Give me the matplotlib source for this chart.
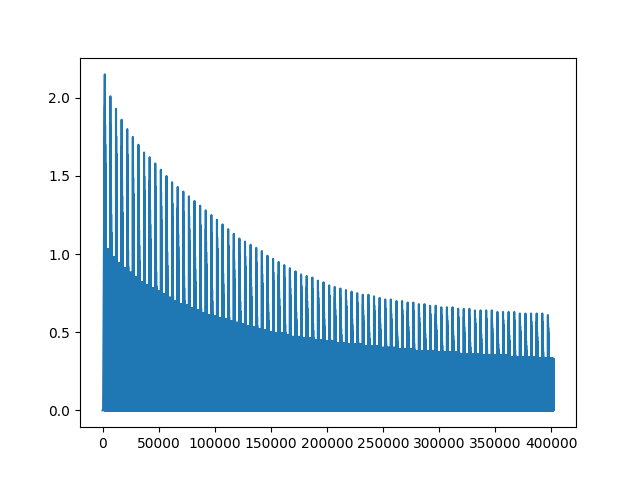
import matplotlib
matplotlib.use("Agg")
import matplotlib.pyplot as plt
import numpy as np

cycle_len = 5000
first_peak_step = 2000
peak_values = [2.15,2.01,1.93,1.86,1.80,1.75,1.70,1.65,1.62,1.58,
               1.54,1.50,1.46,1.43,1.40,1.37,1.34,1.31,1.28,1.25,
               1.22,1.19,1.16,1.13,1.10,1.08,1.06,1.04,1.02,0.99,
               0.97,0.95,0.93,0.91,0.89,0.87,0.86,0.85,0.83,0.82,
               0.80,0.79,0.78,0.77,0.76,0.75,0.74,0.74,0.73,0.72,
               0.71,0.71,0.70,0.70,0.69,0.69,0.68,0.68,0.67,0.67,
               0.66,0.66,0.66,0.65,0.65,0.65,0.64,0.64,0.64,0.64,
               0.63,0.63,0.63,0.63,0.62,0.62,0.62,0.62,0.62,0.61]
band_values = [1.03,0.98,0.94,0.91,0.88,0.85,0.82,0.80,0.78,0.76,
               0.74,0.72,0.70,0.68,0.67,0.65,0.64,0.62,0.61,0.60,
               0.59,0.58,0.57,0.56,0.55,0.54,0.53,0.52,0.51,0.50,
               0.49,0.49,0.48,0.47,0.47,0.46,0.46,0.45,0.45,0.44,
               0.44,0.43,0.43,0.42,0.42,0.42,0.41,0.41,0.41,0.40,
               0.40,0.40,0.39,0.39,0.39,0.38,0.38,0.38,0.38,0.37,
               0.37,0.37,0.37,0.36,0.36,0.36,0.36,0.35,0.35,0.35,
               0.35,0.35,0.34,0.34,0.34,0.34,0.34,0.33,0.33,0.33]
last_step = 400500
last_value = 0.33

xs = [0, first_peak_step - 1500]
ys = [0.0, 0.0]
for k, (p, b) in enumerate(zip(peak_values, band_values)):
    start = first_peak_step + k * cycle_len
    xs += [start, start + 30]
    ys += [p, 0.0]
    steps = list(range(start + 60, start + cycle_len - 30, 50))
    for j, s in enumerate(steps):
        if j % 2 == 0:
            t = (s - start) / 900.0
            top = p - (p - b) * min(t, 1.0) if t < 1 else b
        else:
            top = 0.0
        xs.append(s)
        ys.append(top)
xs.append(last_step)
ys.append(last_value)

fig, ax = plt.subplots(figsize=(6.4, 4.8), dpi=100)
ax.plot(xs, ys, color="#1f77b4", linewidth=1.5)
plt.savefig("out.png")
